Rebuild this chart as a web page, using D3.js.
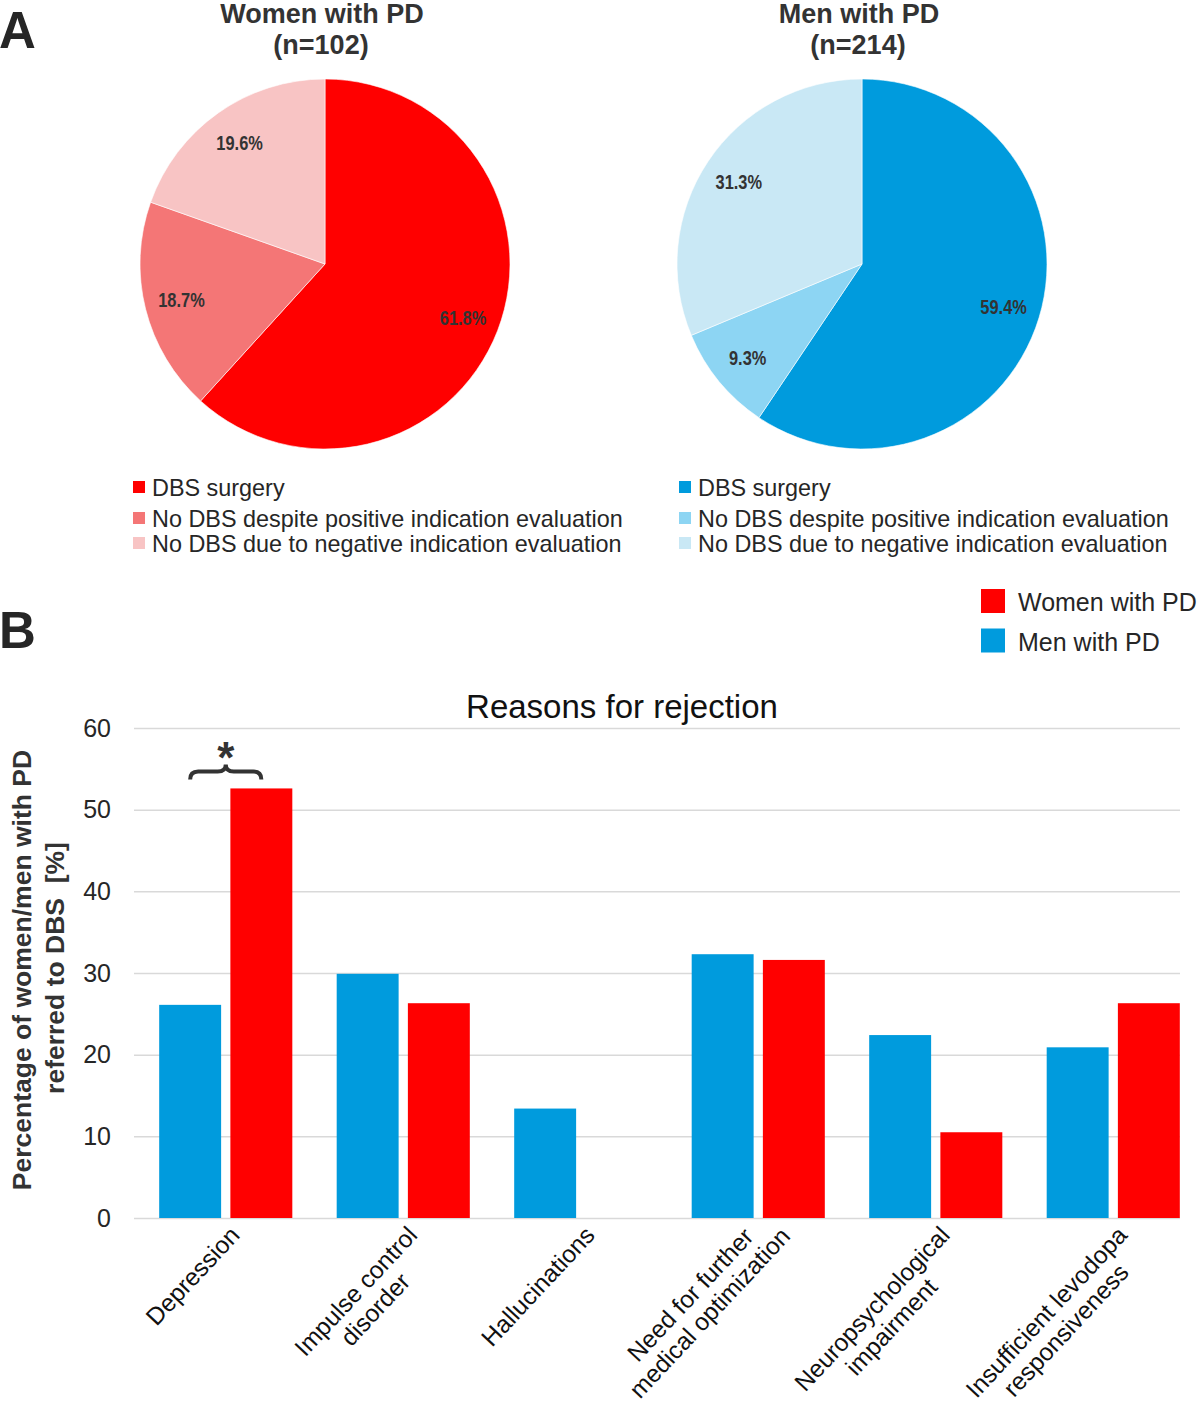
<!DOCTYPE html>
<html>
<head>
<meta charset="utf-8">
<script src="https://cdn.jsdelivr.net/npm/d3@7"></script>
<style>
  body { margin: 0; background: #fff; }
  text { font-family: "Liberation Sans", Arial, sans-serif; fill: #262626; }
</style>
</head>
<body>
<div id="chart"></div>
<script>
// ---- data ----
var pieGroups = ["Women with PD", "Men with PD"];
var pieCounts = ["(n=102)", "(n=214)"];
var outcomes = ["DBS surgery",
                "No DBS despite positive indication evaluation",
                "No DBS due to negative indication evaluation"];
var womenOutcome = [61.8, 18.7, 19.6];
var menOutcome = [59.4, 9.3, 31.3];
var womenColors = ["#ff0000", "#f47676", "#f8c4c4"];
var menColors = ["#009bdd", "#8dd5f3", "#c9e8f5"];

var reasons = ["Depression", "Impulse control\ndisorder", "Hallucinations",
               "Need for further\nmedical optimization", "Neuropsychological\nimpairment",
               "Insufficient levodopa\nresponsiveness"];
var menReasons = [26.1, 29.9, 13.4, 32.3, 22.4, 20.9];
var womenReasons = [52.6, 26.3, 0, 31.6, 10.5, 26.3];
var yTicks = [0, 10, 20, 30, 40, 50, 60];
var barKeys = ["Men with PD", "Women with PD"];
var barColors = ["#009bdd", "#ff0000"];

var width = 1200, height = 1410;

var svg = d3.select("#chart").append("svg")
    .attr("width", width)
    .attr("height", height);

// panel letters
svg.append("text").attr("x", -1).attr("y", 48)
    .style("font-size", "51px").style("font-weight", "bold").text("A");
svg.append("text").attr("x", -1).attr("y", 648)
    .style("font-size", "51px").style("font-weight", "bold").text("B");

// ---- A: pies ----
var pie = d3.pie().sort(null).value(function(d) { return d; });
var radius = 185;
var arc = d3.arc().innerRadius(0).outerRadius(radius);
var labelArc = d3.arc().innerRadius(radius * 0.8).outerRadius(radius * 0.8);

var pies = [
  {cx: 325, values: womenOutcome, colors: womenColors, legendX: 133},
  {cx: 862, values: menOutcome, colors: menColors, legendX: 679}
];

pies.forEach(function(p, k) {
  var g = svg.append("g").attr("transform", "translate(" + p.cx + ",264)");
  var arcs = pie(p.values);

  g.selectAll("path").data(arcs).join("path")
      .attr("d", arc)
      .attr("fill", function(d, i) { return p.colors[i]; })
      .attr("stroke", "#fff")
      .attr("stroke-width", 0.6);

  // narrow bold labels (scaled horizontally like Arial Narrow)
  g.selectAll("g.lbl").data(arcs).join("g")
      .attr("class", "lbl")
      .attr("transform", function(d) { return "translate(" + labelArc.centroid(d) + ") scale(0.8,1)"; })
    .append("text")
      .attr("text-anchor", "middle")
      .attr("dy", "0.35em")
      .style("font-size", "20.5px")
      .style("font-weight", "bold")
      .style("fill", "#333")
      .text(function(d) { return d.value.toFixed(1) + "%"; });

  // title
  svg.append("text").attr("x", p.cx - 3).attr("y", 23)
      .attr("text-anchor", "middle")
      .style("font-size", "27px").style("font-weight", "bold").style("fill", "#333")
      .text(pieGroups[k]);
  svg.append("text").attr("x", p.cx - 4).attr("y", 54)
      .attr("text-anchor", "middle")
      .style("font-size", "27px").style("font-weight", "bold").style("fill", "#333")
      .text(pieCounts[k]);

  // legend
  var rowY = [496, 527, 552];
  var lg = svg.append("g").selectAll("g").data(outcomes).join("g")
      .attr("transform", function(d, i) { return "translate(" + p.legendX + "," + rowY[i] + ")"; });
  lg.append("rect").attr("x", 0).attr("y", -15).attr("width", 12).attr("height", 12)
      .attr("fill", function(d, i) { return p.colors[i]; });
  lg.append("text").attr("x", 19).attr("y", 0)
      .style("font-size", "23.4px")
      .text(function(d) { return d; });
});

// ---- B: grouped bars ----
var plotLeft = 134, plotRight = 1180;
var x0 = d3.scaleBand().domain(reasons).range([137, 1202])
    .paddingInner(0.25).paddingOuter(0.125);
var x1 = d3.scaleBand().domain(barKeys).range([0, x0.bandwidth()]).paddingInner(0.13);
var y = d3.scaleLinear().domain([0, 60]).range([1218, 728]);

// gridlines + y labels
var yAxis = svg.append("g")
    .attr("transform", "translate(" + plotLeft + ",0)")
    .call(d3.axisLeft(y).tickValues(yTicks).tickSize(-(plotRight - plotLeft)).tickPadding(23));
yAxis.select(".domain").remove();
yAxis.selectAll(".tick line").attr("stroke", "#d9d9d9").attr("stroke-width", 1.5);
yAxis.selectAll(".tick text")
    .style("font-size", "25px").style("fill", "#262626")
    .style("font-family", "'Liberation Sans', Arial, sans-serif");

svg.append("text").attr("x", 622).attr("y", 718)
    .attr("text-anchor", "middle")
    .style("font-size", "33px").style("fill", "#111")
    .text("Reasons for rejection");

// bars
var groups = svg.append("g").selectAll("g").data(reasons).join("g")
    .attr("transform", function(d) { return "translate(" + x0(d) + ",0)"; });

groups.selectAll("rect")
    .data(function(d, i) {
      return [{key: barKeys[0], v: menReasons[i]}, {key: barKeys[1], v: womenReasons[i]}];
    })
    .join("rect")
    .attr("x", function(d) { return x1(d.key); })
    .attr("y", function(d) { return y(d.v); })
    .attr("width", x1.bandwidth())
    .attr("height", function(d) { return y(0) - y(d.v); })
    .attr("fill", function(d, i) { return barColors[i]; });

// category labels, rotated, lines centred, block hung from its top-right corner
var labelG = svg.append("g").selectAll("g").data(reasons).join("g");
labelG.each(function(d) {
  var g = d3.select(this), lines = d.split("\n");
  var t = g.selectAll("text").data(lines).join("text")
      .attr("text-anchor", "middle")
      .attr("y", function(l, i) { return 21 + i * 26.5; })
      .style("font-size", "24.5px")
      .style("fill", "#111")
      .text(function(l) { return l; });
  var lens = t.nodes().map(function(n) { return n.getComputedTextLength(); });
  var w = d3.max(lens);
  t.attr("x", -w / 2);
  // blocks whose widest line is not the first sit higher (as in the source figure)
  var lift = lens.indexOf(w) > 0 ? -17 : 0;
  g.attr("transform", "translate(" + (x0(d) + x0.bandwidth() / 2 + (lift ? -1.5 : 0)) + "," +
         (1222 + lift) + ") rotate(-47)");
});

// y axis title
svg.append("text")
    .attr("transform", "translate(31,970) rotate(-90)")
    .attr("text-anchor", "middle")
    .style("font-size", "26.5px").style("font-weight", "bold").style("fill", "#333")
    .text("Percentage of women/men with PD");
svg.append("text")
    .attr("transform", "translate(64,968) rotate(-90)")
    .attr("text-anchor", "middle")
    .style("font-size", "26.5px").style("font-weight", "bold").style("fill", "#333")
    .attr("xml:space", "preserve")
    .text("referred to DBS  [%]");

// significance brace over Depression
var bx0 = x0(reasons[0]) + x1(barKeys[0]) + x1.bandwidth() / 2;
var bx1 = x0(reasons[0]) + x1(barKeys[1]) + x1.bandwidth() / 2;
var bxm = (bx0 + bx1) / 2;
var yb = y(womenReasons[0]) - 9;
svg.append("path")
    .attr("d", "M" + bx0 + "," + yb +
               " Q" + bx0 + "," + (yb - 8) + " " + (bx0 + 8) + "," + (yb - 8) +
               " L" + (bxm - 8) + "," + (yb - 8) +
               " Q" + bxm + "," + (yb - 8) + " " + bxm + "," + (yb - 15) +
               " Q" + bxm + "," + (yb - 8) + " " + (bxm + 8) + "," + (yb - 8) +
               " L" + (bx1 - 8) + "," + (yb - 8) +
               " Q" + bx1 + "," + (yb - 8) + " " + bx1 + "," + yb)
    .attr("fill", "none").attr("stroke", "#333").attr("stroke-width", 4);
svg.append("text").attr("x", bxm).attr("y", yb - 6)
    .attr("text-anchor", "middle")
    .style("font-size", "44px").style("font-weight", "bold").style("fill", "#333")
    .text("*");

// legend for bars
var legB = svg.append("g").selectAll("g").data(["Women with PD", "Men with PD"]).join("g")
    .attr("transform", function(d, i) { return "translate(981," + (589 + i * 39.5) + ")"; });
legB.append("rect").attr("width", 24).attr("height", 24)
    .attr("fill", function(d) { return barColors[barKeys.indexOf(d)]; });
legB.append("text").attr("x", 37).attr("y", 22)
    .style("font-size", "25px").style("fill", "#262626")
    .text(function(d) { return d; });
</script>
</body>
</html>
